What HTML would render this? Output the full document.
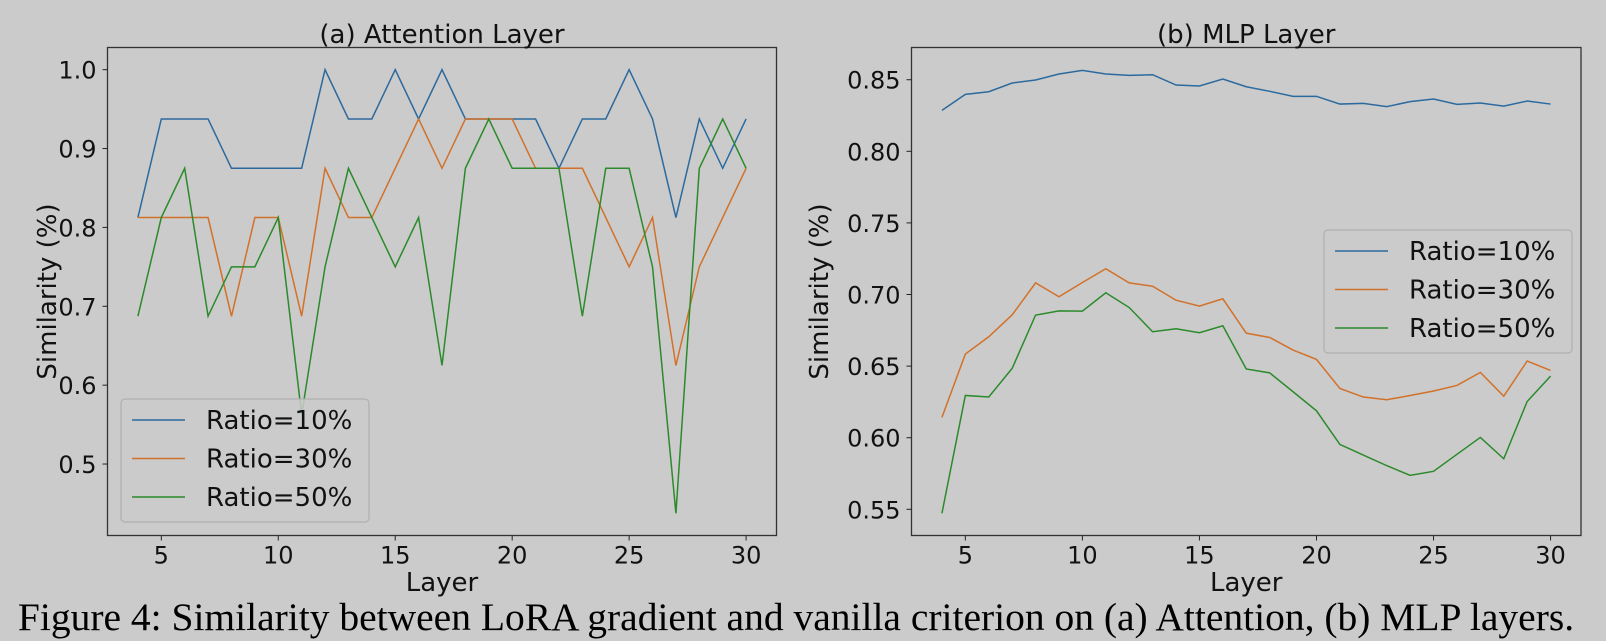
<!DOCTYPE html>
<html><head><meta charset="utf-8"><style>
body{margin:0;background:#cbcbcb;}
svg{display:block;font-family:"DejaVu Sans","Liberation Sans",sans-serif;}
</style></head><body>
<svg id="fig" width="1606" height="641" viewBox="0 0 1606 641"></svg>
<script>
const layers=[4,5,6,7,8,9,10,11,12,13,14,15,16,17,18,19,20,21,22,23,24,25,26,27,28,29,30];
const attn10=[.8125,.9375,.9375,.9375,.875,.875,.875,.875,1.0,.9375,.9375,1.0,.9375,1.0,.9375,.9375,.9375,.9375,.875,.9375,.9375,1.0,.9375,.8125,.9375,.875,.9375];
const attn30=[.8125,.8125,.8125,.8125,.6875,.8125,.8125,.6875,.875,.8125,.8125,.875,.9375,.875,.9375,.9375,.9375,.875,.875,.875,.8125,.75,.8125,.625,.75,.8125,.875];
const attn50=[.6875,.8125,.875,.6875,.75,.75,.8125,.5625,.75,.875,.8125,.75,.8125,.625,.875,.9375,.875,.875,.875,.6875,.875,.875,.75,.4375,.875,.9375,.875];
const mlp10=[.8286,.8398,.8416,.8477,.8498,.854,.8565,.854,.853,.8535,.8463,.8456,.8505,.8451,.8419,.8384,.8384,.833,.8335,.8312,.8347,.8365,.8328,.8337,.8316,.8351,.833];
const mlp30=[.6142,.6584,.6705,.6858,.7081,.6984,.7084,.718,.7081,.7058,.696,.6919,.697,.673,.67,.6612,.6547,.6344,.6284,.6265,.6295,.6326,.6365,.6456,.629,.6535,.647];
const mlp50=[.5472,.6295,.6284,.6484,.6856,.6886,.6884,.7012,.6909,.674,.6761,.6733,.6782,.648,.6453,.6321,.6188,.5953,.5879,.5805,.5737,.5765,.5884,.6002,.5853,.6253,.643];
const xTicks=[5,10,15,20,25,30];
const attnYTicks=[0.5,0.6,0.7,0.8,0.9,1.0];
const mlpYTicks=[0.55,0.60,0.65,0.70,0.75,0.80,0.85];
const seriesNames=["Ratio=10%","Ratio=30%","Ratio=50%"];
const colors=["#2c6a9e","#d2712a","#2b8a2b"];
const NS="http://www.w3.org/2000/svg";
const svg=document.getElementById('fig');
function mk(t,a,p){const e=document.createElementNS(NS,t);for(const k in a)e.setAttribute(k,a[k]);(p||svg).appendChild(e);return e;}
function chart(o){
  const g=mk('g',{});
  
  
  const X=v=>o.x0+(v-o.xmin)/(o.xmax-o.xmin)*(o.x1-o.x0);
  const Y=v=>o.y1-(v-o.ymin)/(o.ymax-o.ymin)*(o.y1-o.y0);
  o.series.forEach((s,i)=>{
    const p=mk('polyline',{points:layers.map((l,j)=>X(l)+','+Y(s[j])).join(' '),fill:'none',stroke:colors[i],'stroke-width':1.5},g);
    
    
  });
  const fr=mk('rect',{x:o.x0,y:o.y0,width:o.x1-o.x0,height:o.y1-o.y0,fill:'none',stroke:'#333','stroke-width':1.3},g);
  
  
  xTicks.forEach(t=>{
    mk('line',{x1:X(t),x2:X(t),y1:o.y1,y2:o.y1+5,stroke:'#222'},g);
    const tx=mk('text',{x:X(t),y:o.y1+28,'text-anchor':'middle','font-size':24,fill:'#111'},g);
    tx.textContent=t;
    
    
  });
  o.yTicks.forEach(t=>{
    mk('line',{x1:o.x0-5,x2:o.x0,y1:Y(t),y2:Y(t),stroke:'#222'},g);
    const tx=mk('text',{x:o.x0-11,y:Y(t)+9,'text-anchor':'end','font-size':24,fill:'#111'},g);
    tx.textContent=t.toFixed(o.dec);
    
    
  });
  const ti=mk('text',{x:(o.x0+o.x1)/2,y:43,'text-anchor':'middle','font-size':26,fill:'#111'},g);
  ti.textContent=o.title;
  
  
  const xl=mk('text',{x:(o.x0+o.x1)/2,y:591,'text-anchor':'middle','font-size':26,fill:'#111'},g);
  xl.textContent='Layer';
  
  
  const yl=mk('text',{x:0,y:0,'text-anchor':'middle','font-size':26,fill:'#111',transform:`translate(${o.ylx},${(o.y0+o.y1)/2}) rotate(-90)`},g);
  yl.textContent='Similarity (%)';
  
  
  const lg=mk('g',{},g);
  
  
  mk('rect',{x:o.lx,y:o.ly,width:248,height:123,rx:4,fill:'#cbcbcb',stroke:'#b0b0b0','stroke-width':1.2,'fill-opacity':0.85},lg);
  seriesNames.forEach((n,i)=>{
    const cy=o.ly+21+i*38.5;
    mk('line',{x1:o.lx+11,x2:o.lx+64,y1:cy,y2:cy,stroke:colors[i],'stroke-width':1.5},lg);
    const t=mk('text',{x:o.lx+85,y:cy+9,'font-size':26,fill:'#111'},lg);
    t.textContent=n;
    
    
  });
}
chart({name:'attention-chart',title:'(a) Attention Layer',x0:107.5,x1:776.5,y0:47.5,y1:535.5,xmin:2.7,xmax:31.3,ymin:0.409375,ymax:1.028125,yTicks:attnYTicks,dec:1,series:[attn10,attn30,attn50],ylx:56,lx:121,ly:399});
chart({name:'mlp-chart',title:'(b) MLP Layer',x0:911.5,x1:1581,y0:47.5,y1:535.5,xmin:2.7,xmax:31.3,ymin:0.5317,ymax:0.8725,yTicks:mlpYTicks,dec:2,series:[mlp10,mlp30,mlp50],ylx:828,lx:1324,ly:230});
const cap=mk('text',{x:796,y:630,'text-anchor':'middle','font-size':39.5,fill:'#000','font-family':'"Liberation Serif",serif'});
cap.textContent='Figure 4: Similarity between LoRA gradient and vanilla criterion on (a) Attention, (b) MLP layers.';


</script>
</body></html>
